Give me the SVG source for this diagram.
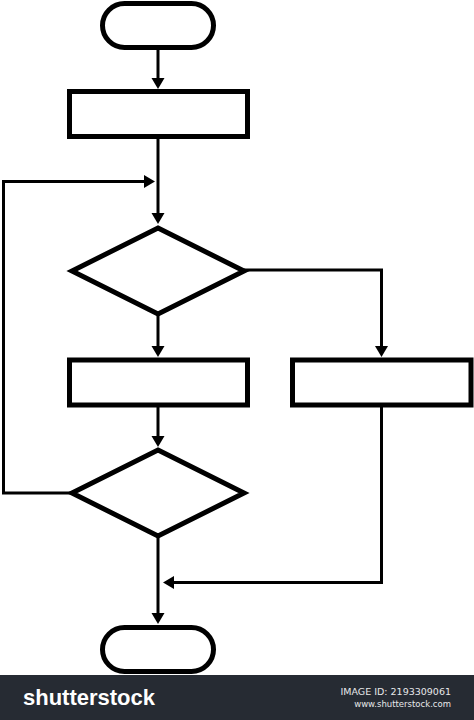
<svg xmlns="http://www.w3.org/2000/svg" width="474" height="720" viewBox="0 0 474 720">
<style>
.shape{fill:#fff;stroke:#000;stroke-width:5}
.conn{fill:none;stroke:#000;stroke-width:3}
.bar{fill:#262b33}
.logo{font-family:"Liberation Sans",Arial,sans-serif;font-weight:bold;font-size:22px;fill:#fff}
.meta{font-family:"DejaVu Sans","Liberation Sans",sans-serif;fill:#e6e8ea;text-anchor:end}
</style>
<defs>
<marker id="arr" markerUnits="userSpaceOnUse" markerWidth="12" markerHeight="14" refX="8" refY="6.5" orient="auto">
<path d="M0,0 L11,6.5 L0,13 z" fill="#000"/>
</marker>
</defs>
<rect width="474" height="720" fill="#fff"/>
<g id="connectors">
<path class="conn" d="M158,50 V86" marker-end="url(#arr)"/>
<path class="conn" d="M158,139 V221" marker-end="url(#arr)"/>
<path class="conn" d="M244,270 H381.5 V354" marker-end="url(#arr)"/>
<path class="conn" d="M158,314 V354" marker-end="url(#arr)"/>
<path class="conn" d="M158,407 V444" marker-end="url(#arr)"/>
<path class="conn" d="M72,493 H3.5 V181.5 H152" marker-end="url(#arr)"/>
<path class="conn" d="M381.5,407 V582.5 H166" marker-end="url(#arr)"/>
<path class="conn" d="M158,536 V621" marker-end="url(#arr)"/>
</g>
<g id="start"><rect class="shape" x="102.5" y="3.5" width="111" height="44" rx="22"/></g>
<g id="process1"><rect class="shape" x="69.5" y="91.5" width="178" height="45"/></g>
<g id="decision1"><polygon class="shape" points="158,228 244,271 158,314 72,271"/></g>
<g id="process2"><rect class="shape" x="69.5" y="360" width="178" height="45"/></g>
<g id="process3"><rect class="shape" x="292.5" y="360" width="178.5" height="45"/></g>
<g id="decision2"><polygon class="shape" points="158,450 244,493 158,536 72,493"/></g>
<g id="end"><rect class="shape" x="102.5" y="627.5" width="111" height="44" rx="22"/></g>
<g id="footer">
<rect class="bar" x="0" y="675" width="474" height="45"/>
<text class="logo" x="23" y="705">shutterstock</text>
<text class="meta" x="451" y="695" font-size="9.5">IMAGE ID: 2193309061</text>
<text class="meta" x="451" y="707" font-size="8.5">www.shutterstock.com</text>
</g>
</svg>
